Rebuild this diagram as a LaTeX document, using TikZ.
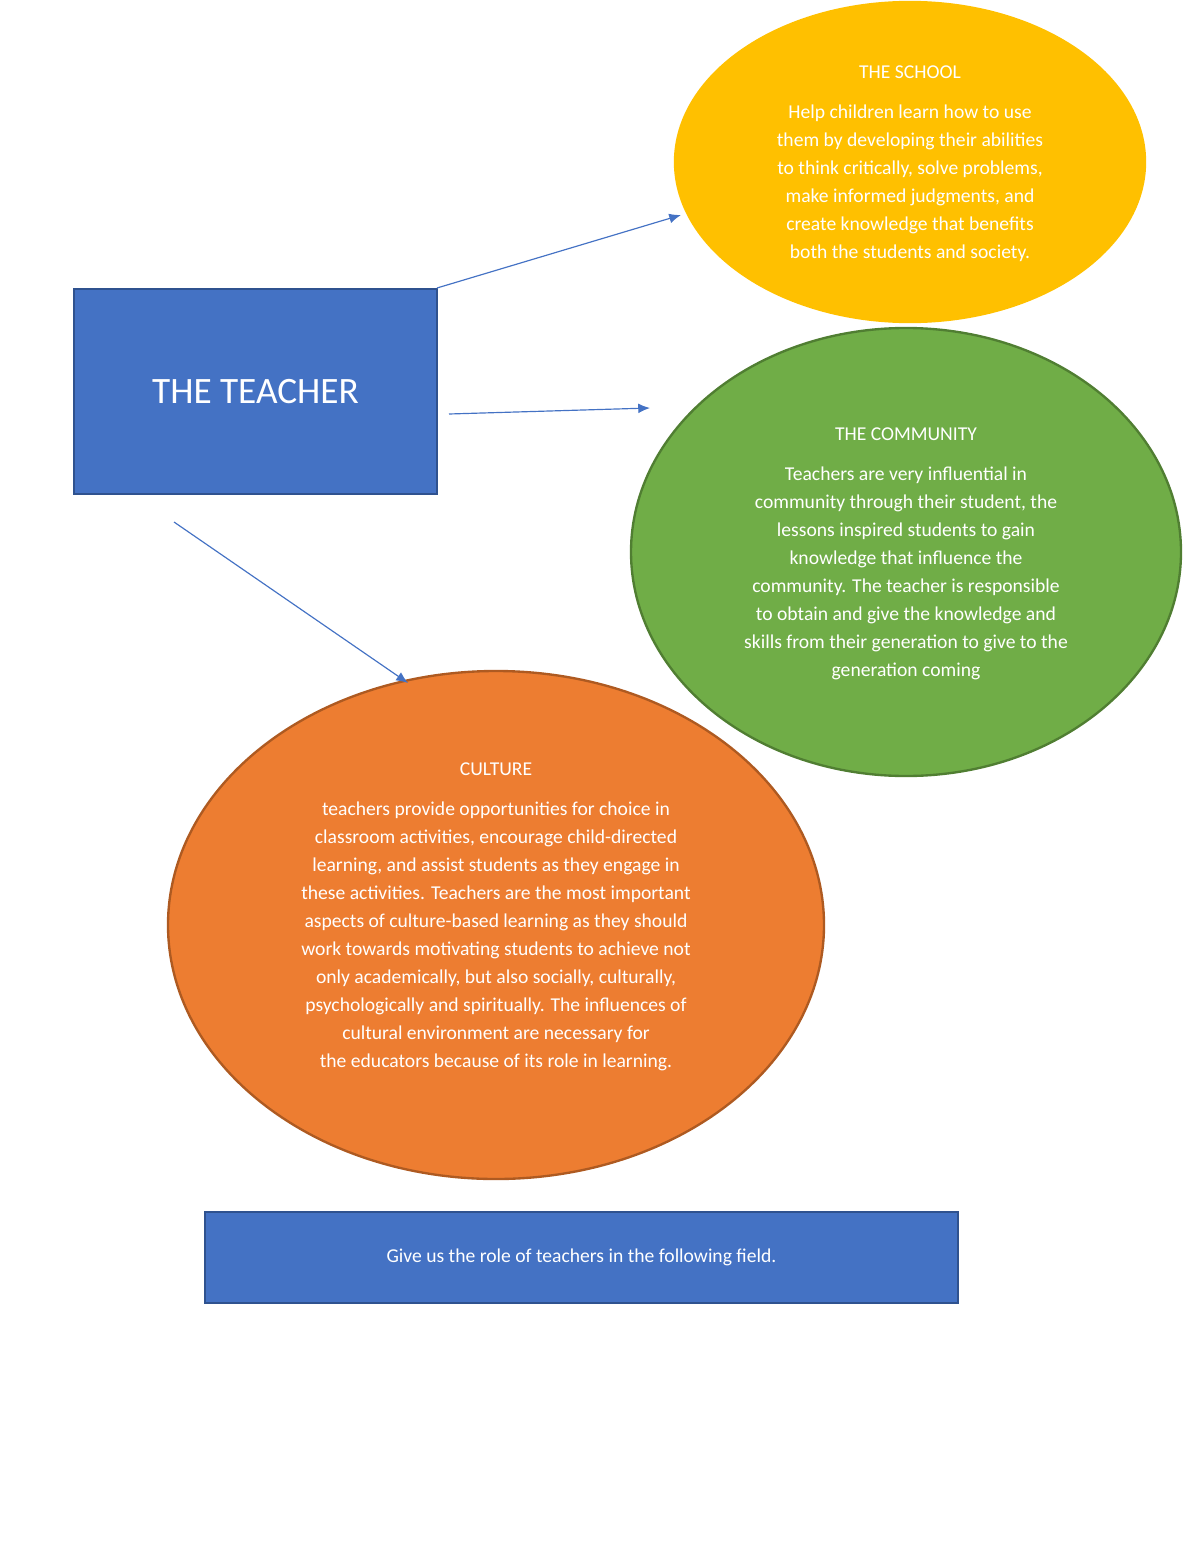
\documentclass[tikz,border=0pt]{standalone}
\usepackage{fontspec}
\setmainfont{Carlito}
\usetikzlibrary{arrows.meta}
\definecolor{tblue}{HTML}{4472C4}
\definecolor{tbluedk}{HTML}{2F528F}
\definecolor{tyel}{HTML}{FFC000}
\definecolor{tyeldk}{HTML}{FFC000}
\definecolor{tgrn}{HTML}{70AD47}
\definecolor{tgrndk}{HTML}{507E32}
\definecolor{torg}{HTML}{ED7D31}
\definecolor{torgdk}{HTML}{AE5A21}
\tikzset{
 txt/.style={text=white,align=center,font=\fontsize{10}{14.3}\selectfont},
 conn/.style={draw=tblue,line width=0.6pt,-{Latex[length=6pt,width=5pt]}}
}
\begin{document}
\begin{tikzpicture}[x=0.51pt,y=-0.51pt]
\useasboundingbox (0,0) rectangle (1200,1553);
\node[draw=tbluedk,line width=1.2pt,fill=tblue,minimum width=363*0.51pt,minimum height=205*0.51pt,text=white,font=\fontsize{19}{22}\selectfont] (teacher) at (255.5,391.5) {THE TEACHER};
\draw[fill=tyel,draw=tyeldk,line width=1.2pt] (910,162) ellipse [x radius=235,y radius=160];
\node[txt] (school) at (910,164) {THE SCHOOL\\[6pt]Help children learn how to use\\them by developing their abilities\\to think critically, solve problems,\\make informed judgments, and\\create knowledge that benefits\\both the students and society.};
\draw[fill=tgrn,draw=tgrndk,line width=1.2pt] (906,552) ellipse [x radius=275,y radius=224];
\node[txt] (community) at (906,554) {THE COMMUNITY\\[6pt]Teachers are very influential in\\community through their student, the\\lessons inspired students to gain\\knowledge that influence the\\community. The teacher is responsible\\to obtain and give the knowledge and\\skills from their generation to give to the\\generation coming};
\draw[fill=torg,draw=torgdk,line width=1.2pt] (496,925) ellipse [x radius=328,y radius=254];
\node[txt] (culture) at (496,917) {CULTURE\\[6pt]teachers provide opportunities for choice in\\classroom activities, encourage child-directed\\learning, and assist students as they engage in\\these activities. Teachers are the most important\\aspects of culture-based learning as they should\\work towards motivating students to achieve not\\only academically, but also socially, culturally,\\psychologically and spiritually. The influences of\\cultural environment are necessary for\\the educators because of its role in learning.};
\node[draw=tbluedk,line width=1.2pt,fill=tblue,minimum width=753*0.51pt,minimum height=91*0.51pt,txt] (prompt) at (581.5,1257.5) {Give us the role of teachers in the following field.};
\coordinate (a1) at (437,288); \coordinate (b1) at (681,215);
\coordinate (a2) at (449,414); \coordinate (b2) at (650,408);
\coordinate (a3) at (174,522); \coordinate (b3) at (408,683);
\draw[conn] (a1) -- (b1);
\draw[conn] (a2) -- (b2);
\draw[conn] (a3) -- (b3);
\end{tikzpicture}
\end{document}
